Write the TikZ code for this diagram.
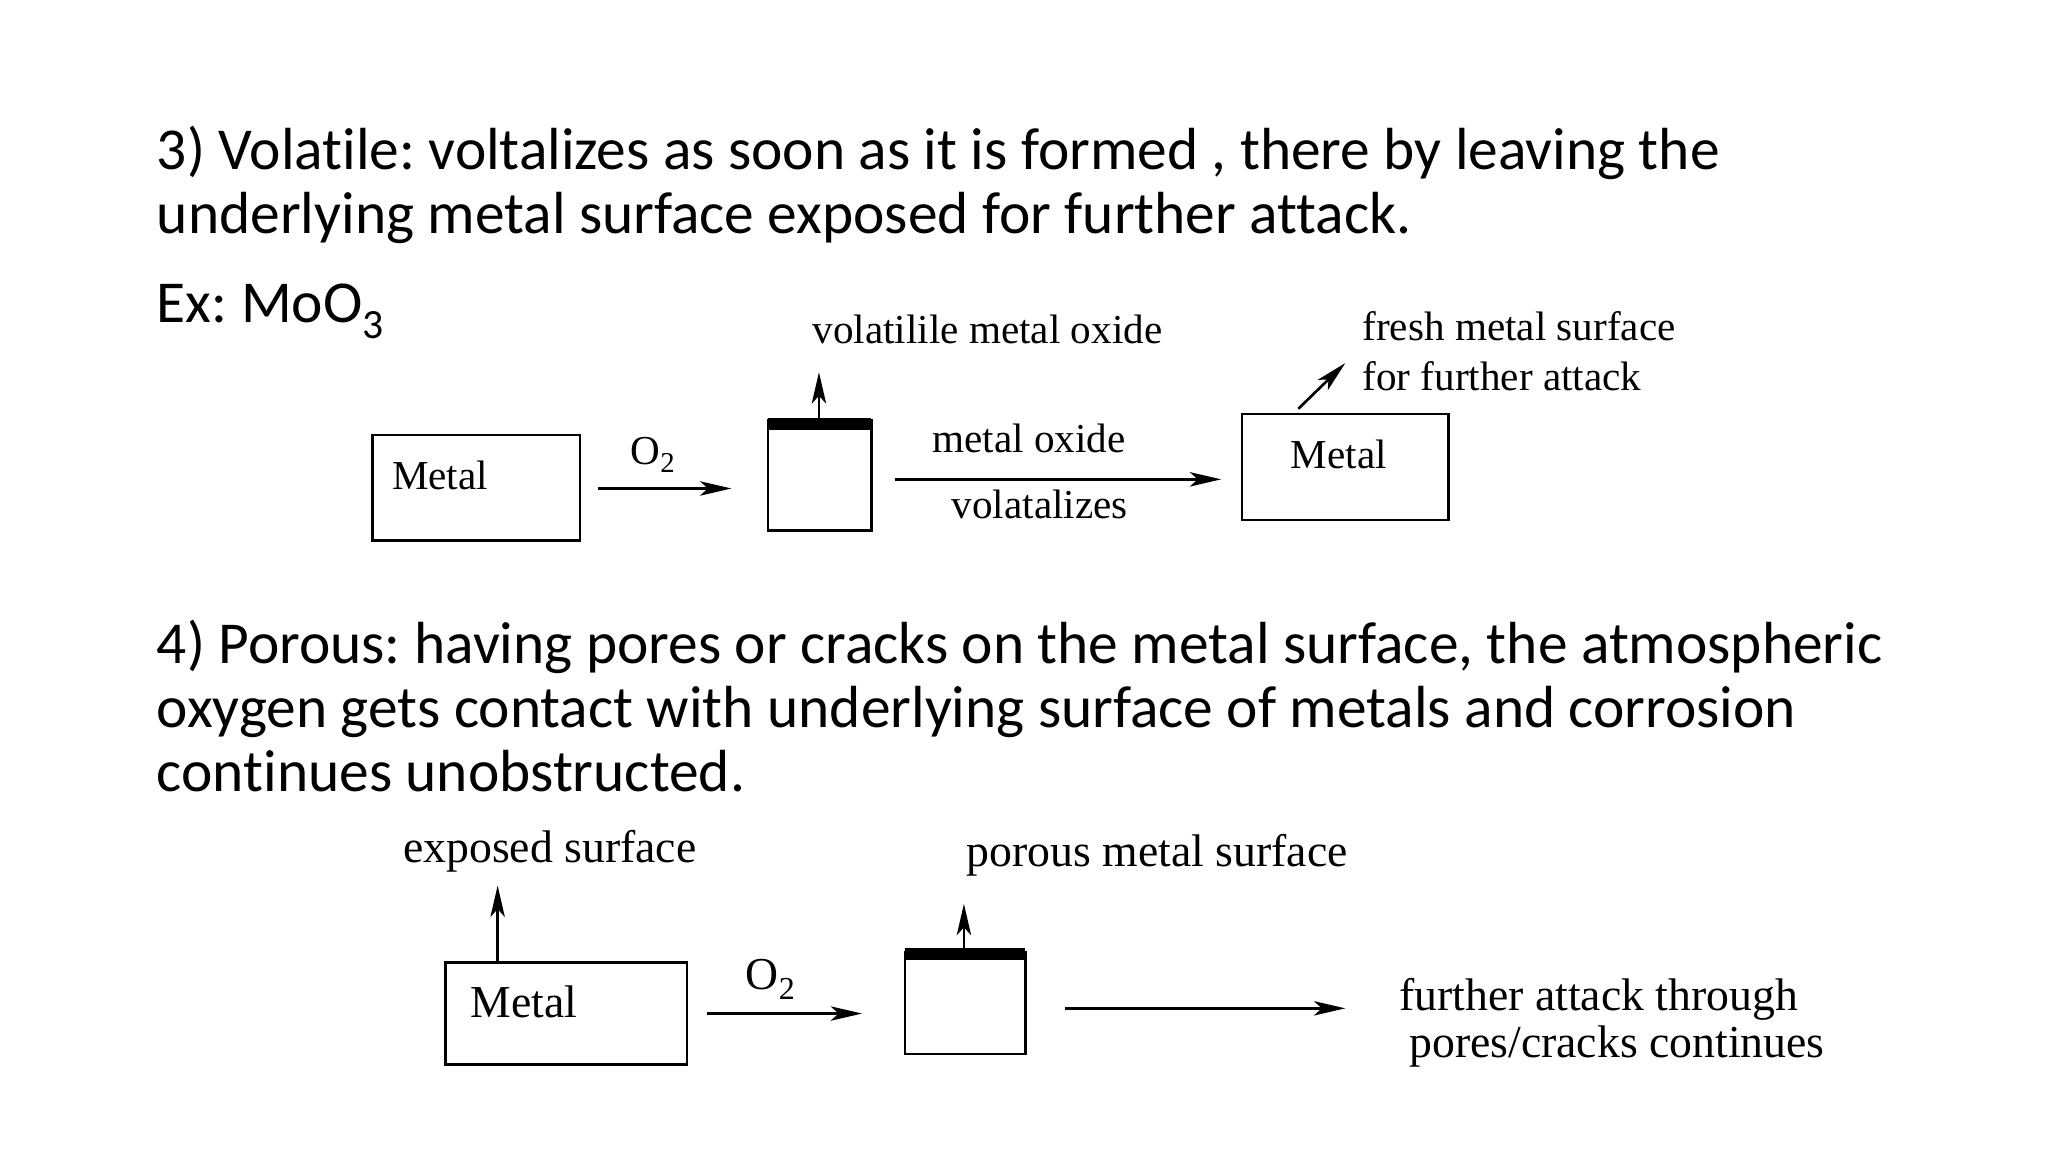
\documentclass[tikz,border=0pt]{standalone}
\usepackage{fontspec}
\setmainfont{Liberation Serif}
\newfontfamily\headfont[Ligatures={NoCommon}]{Carlito}
\usetikzlibrary{arrows.meta}
\frenchspacing
\begin{document}
\begin{tikzpicture}[x=1pt,y=-1pt,
  head/.style={anchor=base west,inner sep=0,font=\headfont\fontsize{45.5}{50}\selectfont},
  lbl/.style={inner sep=0,font=\fontsize{31.5}{36}\selectfont},
  lblb/.style={inner sep=0,font=\fontsize{35}{40}\selectfont},
  box/.style={draw,line width=2pt},
  bar/.style={fill=black},
  arr/.style={line width=2pt,-{Stealth[length=24pt,width=11pt,inset=6pt]}}]
\useasboundingbox (0,0) rectangle (1568,882);
\node[head] (h1) at (120,130) {3) Volatile: voltalizes as soon as it is formed , there by leaving the};
\node[head] (h2) at (120,179) {underlying metal surface exposed for further attack.};
\node[head] (h3) at (120,247) {Ex: MoO\textsubscript{3}};
% diagram 1
\draw[box] (285,333) rectangle (444,414);
\node[lbl,anchor=west] (m1) at (300,364) {Metal};
\coordinate (a1s) at (458,374); \coordinate (a1e) at (560,374);
\draw[arr] (a1s) -- (a1e);
\node[lbl] (o1) at (500,348) {O\textsubscript{2}};
\draw[box] (588,322) rectangle (667,406);
\fill[bar] (588,320) rectangle (667,329);
\coordinate (u1s) at (627,320); \coordinate (u1e) at (627,285);
\draw[arr] (u1s) -- (u1e);
\node[lbl] (v1) at (756,252) {volatilile metal oxide};
\coordinate (a2s) at (685,367); \coordinate (a2e) at (935,367);
\draw[arr] (a2s) -- (a2e);
\node[lbl] (mo) at (788,336) {metal oxide};
\node[lbl] (vz) at (796,386) {volatalizes};
\draw[box] (951,317) rectangle (1109,398);
\node[lbl] (m3) at (1025,348) {Metal};
\coordinate (d1s) at (994,313); \coordinate (d1e) at (1030,278);
\draw[arr] (d1s) -- (d1e);
\node[lbl,anchor=west] (f1) at (1043,250) {fresh metal surface};
\node[lbl,anchor=west] (f2) at (1043,288) {for further attack};
% section 4
\node[head] (h4) at (120,508) {4) Porous: having pores or cracks on the metal surface, the atmospheric};
\node[head] (h5) at (120,557) {oxygen gets contact with underlying surface of metals and corrosion};
\node[head] (h6) at (120,606) {continues unobstructed.};
\draw[box] (341,737) rectangle (526,815);
\node[lblb] (m4) at (401,767) {Metal};
\coordinate (u2s) at (381,737); \coordinate (u2e) at (381,678);
\draw[arr] (u2s) -- (u2e);
\node[lblb] (es) at (421,652) {exposed surface};
\coordinate (a3s) at (541,776); \coordinate (a3e) at (660,776);
\draw[arr] (a3s) -- (a3e);
\node[lblb] (o2) at (590,750) {O\textsubscript{2}};
\draw[box] (693,729) rectangle (785,807);
\fill[bar] (693,726) rectangle (785,735);
\coordinate (u3s) at (738,727); \coordinate (u3e) at (738,692);
\draw[arr] (u3s) -- (u3e);
\node[lblb] (pm) at (886,655) {porous metal surface};
\coordinate (a4s) at (815,772); \coordinate (a4e) at (1030,772);
\draw[arr] (a4s) -- (a4e);
\node[lblb] (fa1) at (1224,765) {further attack through};
\node[lblb] (fa2) at (1238,801) {pores/cracks continues};
\end{tikzpicture}
\end{document}
